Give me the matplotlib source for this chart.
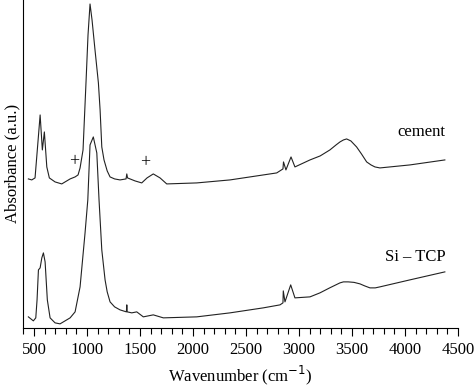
import numpy as np
import matplotlib
matplotlib.use("Agg")
import matplotlib.pyplot as plt
from matplotlib.ticker import MultipleLocator

# FTIR spectra (wavenumber in cm^-1, absorbance in a.u.)
cement_wn = [446, 478, 509, 538, 557, 578, 597, 620, 644, 698, 761, 840, 887, 915,
             934, 962, 991, 1009, 1028, 1047, 1075, 1107, 1123, 1139, 1160, 1190,
             1217, 1260, 1311, 1368, 1375, 1382, 1453, 1516, 1566, 1625, 1689, 1752,
             2035, 2349, 2790, 2849, 2854, 2877, 2925, 2962, 3104, 3200, 3292, 3350,
             3387, 3420, 3450, 3490, 3544, 3590, 3639, 3680, 3717, 3764, 4047, 4377]
cement_abs = [1.49, 1.48, 1.50, 1.88, 2.13, 1.78, 1.96, 1.61, 1.50, 1.46, 1.44, 1.49,
              1.51, 1.53, 1.60, 1.78, 2.48, 2.93, 3.24, 3.08, 2.78, 2.45, 2.18, 1.81,
              1.68, 1.57, 1.51, 1.49, 1.48, 1.49, 1.54, 1.50, 1.47, 1.45, 1.50, 1.54,
              1.50, 1.44, 1.45, 1.48, 1.55, 1.59, 1.66, 1.58, 1.71, 1.61, 1.68, 1.72,
              1.78, 1.83, 1.86, 1.88, 1.89, 1.87, 1.81, 1.74, 1.66, 1.63, 1.61, 1.60,
              1.63, 1.68]

tcp_wn = [446, 493, 516, 528, 541, 557, 573, 588, 604, 625, 651, 698, 745, 840, 887,
          934, 981, 1007, 1028, 1059, 1092, 1113, 1139, 1170, 1190, 1217, 1260, 1311,
          1371, 1375, 1379, 1422, 1469, 1531, 1625, 1720, 2035, 2349, 2663, 2821, 2849,
          2852, 2868, 2922, 2962, 3104, 3198, 3290, 3387, 3420, 3465, 3520, 3576, 3620,
          3670, 3720, 3764, 4047, 4377]
tcp_abs = [0.11, 0.07, 0.10, 0.28, 0.58, 0.60, 0.70, 0.75, 0.66, 0.28, 0.10, 0.05,
           0.04, 0.10, 0.16, 0.41, 0.95, 1.28, 1.83, 1.91, 1.75, 1.28, 0.78, 0.48,
           0.36, 0.26, 0.21, 0.18, 0.16, 0.23, 0.16, 0.15, 0.16, 0.11, 0.13, 0.10,
           0.11, 0.15, 0.20, 0.23, 0.25, 0.37, 0.26, 0.43, 0.30, 0.31, 0.35, 0.40,
           0.45, 0.46, 0.46, 0.455, 0.44, 0.42, 0.40, 0.40, 0.41, 0.48, 0.56]

# carbonate bands marked with "+"
plus_wn = [875, 1550]
plus_abs = [1.66, 1.65]

labels = ["cement", "Si \u2013 TCP"]
label_wn = [4380, 4380]
label_abs = [1.96, 0.71]

plt.rcParams['font.family'] = ['Liberation Serif', 'DejaVu Serif']

fig = plt.figure(figsize=(4.74, 3.88), dpi=100)
ax = fig.add_axes([0.048, 0.155, 0.918, 0.845])

ax.plot(cement_wn, cement_abs, color='#222222', lw=0.8)
ax.plot(tcp_wn, tcp_abs, color='#222222', lw=0.8)

for x, y in zip(plus_wn, plus_abs):
    ax.text(x, y, '+', ha='center', va='center', fontsize=13)

for x, y, s in zip(label_wn, label_abs, labels):
    ax.text(x, y, s, ha='right', va='center', fontsize=12)

ax.set_xlim(393, 4500)
ax.set_ylim(0, 3.28)
ax.xaxis.set_major_locator(MultipleLocator(500))
ax.xaxis.set_minor_locator(MultipleLocator(100))
ax.tick_params(axis='x', which='major', direction='out', length=6, width=0.8,
               labelsize=12, pad=4)
ax.tick_params(axis='x', which='minor', direction='out', length=4, width=0.8)
ax.set_yticks([])
ax.spines['top'].set_visible(False)
ax.spines['right'].set_visible(False)

ax.set_xlabel('Wavenumber (cm$^{-1}$)', fontsize=12, labelpad=4)
ax.set_ylabel('Absorbance (a.u.)', fontsize=12, labelpad=2)

fig.savefig('out.png', dpi=100)
